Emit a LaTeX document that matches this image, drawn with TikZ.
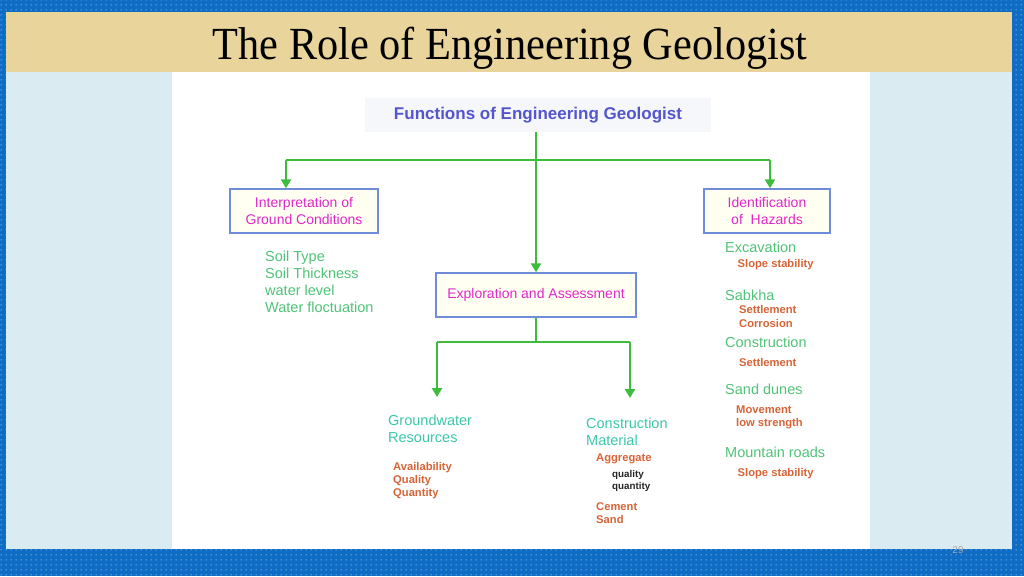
\documentclass[tikz,border=0pt]{standalone}
\usepackage{fontspec}
\setmainfont{Liberation Serif}
\newfontfamily\arialf{Liberation Sans}
\usetikzlibrary{arrows.meta,patterns.meta}
\definecolor{borderblue}{RGB}{14,108,196}
\definecolor{panelblue}{RGB}{218,236,242}
\definecolor{beige}{RGB}{233,213,155}
\definecolor{hdrbg}{RGB}{246,247,251}
\definecolor{hdrtext}{RGB}{85,85,205}
\definecolor{boxblue}{RGB}{110,140,215}
\definecolor{boxfill}{RGB}{255,255,242}
\definecolor{boxtext}{RGB}{225,40,200}
\definecolor{lgreen}{RGB}{60,190,60}
\definecolor{itemgreen}{RGB}{80,195,120}
\definecolor{itemteal}{RGB}{60,200,170}
\definecolor{itemorange}{RGB}{215,100,55}
\tikzdeclarepattern{name=bdots, type=uncolored,
  bounding box={(0,0) and (5pt,5pt)}, tile size={(5pt,5pt)},
  code={\pgfpathcircle{\pgfpoint{2.5pt}{2.5pt}}{0.7pt}\pgfusepath{fill}}}
\begin{document}
\begin{tikzpicture}[x=1pt,y=-1pt,
  gline/.style={draw=lgreen, line width=2.8pt},
  garrow/.style={gline, -{Triangle[width=10pt,length=9pt]}},
  fbox/.style={draw=boxblue, line width=1.4pt, fill=boxfill, text=boxtext,
    font=\arialf\fontsize{14}{16.5}\selectfont, align=center, inner sep=0pt},
  gtext/.style={anchor=base west, inner sep=0pt, text=itemgreen,
    font=\arialf\fontsize{14.5}{17}\selectfont},
  ttext/.style={gtext, text=itemteal},
  otext/.style={anchor=base west, inner sep=0pt, text=itemorange,
    font=\arialf\bfseries\fontsize{11.2}{13}\selectfont},
  ktext/.style={anchor=base west, inner sep=0pt, text=black!85,
    font=\arialf\bfseries\fontsize{9.8}{11}\selectfont}]
\useasboundingbox (0,0) rectangle (1024,576);
% background
\fill[borderblue] (0,0) rectangle (1024,576);
\fill[pattern=bdots, pattern color=white!70!borderblue] (0,0) rectangle (1024,576);
\fill[panelblue] (6,12) rectangle (1012,549);
\fill[white] (172,72) rectangle (870,549);
\fill[beige] (6,12) rectangle (1012,72);
\node[font=\fontsize{46}{50}\selectfont, xscale=0.92, anchor=base, inner sep=0pt] (title) at (510,59) {The Role of Engineering Geologist};
\node[text=gray!70, font=\arialf\fontsize{10}{12}\selectfont, anchor=base, inner sep=0pt] (pg) at (958,553) {29};
% header
\node[fill=hdrbg, minimum width=346pt, minimum height=34pt, inner sep=0pt, text=hdrtext,
  font=\arialf\bfseries\fontsize{17}{20}\selectfont] (hdr) at (538,115) {Functions of Engineering Geologist};
% boxes
\node[fbox, minimum width=148pt, minimum height=44pt] (interp) at (304,211) {Interpretation of\\Ground Conditions};
\node[fbox, minimum width=126pt, minimum height=44pt] (hazard) at (767,211) {Identification\\of\ \ Hazards};
\node[fbox, minimum width=200pt, minimum height=44pt] (expl) at (536,295) {Exploration and Assessment};
% connectors
\coordinate (jL) at (286,160);
\coordinate (jR) at (770,160);
\draw[gline] (jL) -- (jR);
\draw[garrow] (hdr.south -| expl.north) -- (expl.north);
\draw[garrow] (jL) -- (jL |- interp.north);
\draw[garrow] (jR) -- (jR |- hazard.north);
\coordinate (bL) at (437,342);
\coordinate (bR) at (630,342);
\coordinate (tL) at (437,397);
\coordinate (tR) at (630,398);
\draw[gline] (expl.south) -- (expl.south |- bL);
\draw[gline] (bL) -- (bR);
\draw[garrow] (bL) -- (tL);
\draw[garrow] (bR) -- (tR);
% ground conditions list
\node[gtext] (s1) at (265,261.5) {Soil Type};
\node[gtext] (s2) at (265,278.5) {Soil Thickness};
\node[gtext] (s3) at (265,295.5) {water level};
\node[gtext] (s4) at (265,312.5) {Water floctuation};
% groundwater
\node[ttext] (g1) at (388,425.5) {Groundwater};
\node[ttext] (g2) at (388,442.5) {Resources};
\node[otext] (g3) at (393,470.5) {Availability};
\node[otext] (g4) at (393,483.5) {Quality};
\node[otext] (g5) at (393,496.5) {Quantity};
% construction material
\node[ttext] (c1) at (586,428) {Construction};
\node[ttext] (c2) at (586,445) {Material};
\node[otext] (c3) at (596,461) {Aggregate};
\node[ktext] (c4) at (612,477.5) {quality};
\node[ktext] (c5) at (612,489) {quantity};
\node[otext] (c6) at (596,510) {Cement};
\node[otext] (c7) at (596,523.5) {Sand};
% hazards list
\node[gtext] (h1) at (725,252) {Excavation};
\node[otext] (h2) at (737.5,267.5) {Slope stability};
\node[gtext] (h3) at (725,300) {Sabkha};
\node[otext] (h4) at (739,313.5) {Settlement};
\node[otext] (h5) at (739,327) {Corrosion};
\node[gtext] (h6) at (725,347) {Construction};
\node[otext] (h7) at (739,366) {Settlement};
\node[gtext] (h8) at (725,394) {Sand dunes};
\node[otext] (h9) at (736,413) {Movement};
\node[otext] (h10) at (736,426) {low strength};
\node[gtext] (h11) at (725,457.5) {Mountain roads};
\node[otext] (h12) at (737.5,476) {Slope stability};
\end{tikzpicture}
\end{document}
